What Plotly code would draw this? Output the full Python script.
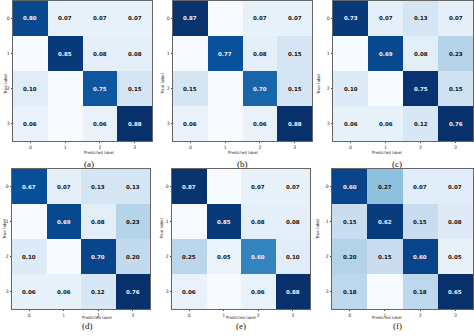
import plotly.graph_objects as go

class_labels = ["0", "1", "2", "3"]
captions = ["(a)", "(b)", "(c)", "(d)", "(e)", "(f)"]

cm_a = [[0.80, 0.07, 0.07, 0.07],
        [0.00, 0.85, 0.08, 0.08],
        [0.10, 0.00, 0.75, 0.15],
        [0.06, 0.00, 0.06, 0.88]]
cm_b = [[0.87, 0.00, 0.07, 0.07],
        [0.00, 0.77, 0.08, 0.15],
        [0.15, 0.00, 0.70, 0.15],
        [0.06, 0.00, 0.06, 0.88]]
cm_c = [[0.73, 0.07, 0.13, 0.07],
        [0.00, 0.69, 0.08, 0.23],
        [0.10, 0.00, 0.75, 0.15],
        [0.06, 0.06, 0.12, 0.76]]
cm_d = [[0.67, 0.07, 0.13, 0.13],
        [0.00, 0.69, 0.08, 0.23],
        [0.10, 0.00, 0.70, 0.20],
        [0.06, 0.06, 0.12, 0.76]]
cm_e = [[0.87, 0.00, 0.07, 0.07],
        [0.00, 0.85, 0.08, 0.08],
        [0.25, 0.05, 0.60, 0.10],
        [0.06, 0.00, 0.06, 0.88]]
cm_f = [[0.60, 0.27, 0.07, 0.07],
        [0.15, 0.62, 0.15, 0.08],
        [0.20, 0.15, 0.60, 0.05],
        [0.18, 0.00, 0.18, 0.65]]
matrices = [cm_a, cm_b, cm_c, cm_d, cm_e, cm_f]

W, H = 474, 336
# pixel boxes (left, top, width, height) of each matrix
boxes = [(13, 1, 139, 140), (173, 1, 139, 140), (333, 1, 140, 140),
         (12, 169, 138, 140), (172, 169, 138, 140), (332, 169, 141, 140)]

blues = ['rgb(247,251,255)', 'rgb(222,235,247)', 'rgb(198,219,239)',
         'rgb(158,202,225)', 'rgb(107,174,214)', 'rgb(66,146,198)',
         'rgb(33,113,181)', 'rgb(8,81,156)', 'rgb(8,48,107)']
cscale = [[i / (len(blues) - 1), c] for i, c in enumerate(blues)]

fig = go.Figure()
layout = dict(width=W, height=H, margin=dict(l=0, r=0, t=0, b=0),
              paper_bgcolor="white", plot_bgcolor="white", showlegend=False)
annotations = []
sans = "DejaVu Sans"

for k, (mat, (x0, y0, w, h), cap) in enumerate(zip(matrices, boxes, captions)):
    n = k + 1
    xa = "x" if n == 1 else f"x{n}"
    ya = "y" if n == 1 else f"y{n}"
    zmax = max(max(r) for r in mat)
    zmin = min(min(r) for r in mat)
    fig.add_trace(go.Heatmap(z=mat, x=[0, 1, 2, 3], y=[0, 1, 2, 3],
                             colorscale=cscale, zmin=zmin, zmax=zmax,
                             showscale=False, xaxis=xa, yaxis=ya,
                             hoverinfo="skip"))
    axcommon = dict(showline=True, mirror=True, linecolor="#666", linewidth=0.8,
                    ticks="outside", ticklen=1.5, tickwidth=0.6, tickcolor="#444",
                    tickfont=dict(size=4.6, color="#333", family=sans),
                    showgrid=False, zeroline=False,
                    tickvals=[0, 1, 2, 3], ticktext=class_labels)
    layout["xaxis" if n == 1 else f"xaxis{n}"] = dict(
        domain=[x0 / W, (x0 + w) / W], range=[-0.5, 3.5], anchor=ya, **axcommon)
    layout["yaxis" if n == 1 else f"yaxis{n}"] = dict(
        domain=[1 - (y0 + h) / H, 1 - y0 / H], range=[3.5, -0.5], anchor=xa,
        **axcommon)
    thresh = (zmax + zmin) / 2
    for i, row in enumerate(mat):
        for j, v in enumerate(row):
            if v == 0:
                continue
            annotations.append(dict(
                x=j, y=i, xref=xa, yref=ya, text=f"<b>{v:.2f}</b>",
                showarrow=False, borderpad=0,
                font=dict(size=5.5, family=sans,
                          color="#eef4fb" if v > thresh else "#111111")))
    # axis titles
    annotations.append(dict(x=(x0 + w / 2) / W, y=1 - (y0 + h + 12) / H,
                            xref="paper", yref="paper", text="Predicted label",
                            showarrow=False, borderpad=0,
                            font=dict(size=4.0, family=sans, color="#333")))
    annotations.append(dict(x=(x0 - 11) / W, y=1 - (y0 + h / 2 + 2) / H,
                            xref="paper", yref="paper", text="True label",
                            textangle=-90, showarrow=False, borderpad=0,
                            font=dict(size=4.2, family=sans, color="#333")))
    annotations.append(dict(x=(x0 + w / 2) / W, y=1 - (y0 + h + 23) / H,
                            xref="paper", yref="paper", text=cap,
                            showarrow=False, borderpad=0,
                            font=dict(size=9, family="Liberation Serif",
                                      color="#111")))

layout["annotations"] = annotations
fig.update_layout(**layout)
fig.write_html("out.html")
